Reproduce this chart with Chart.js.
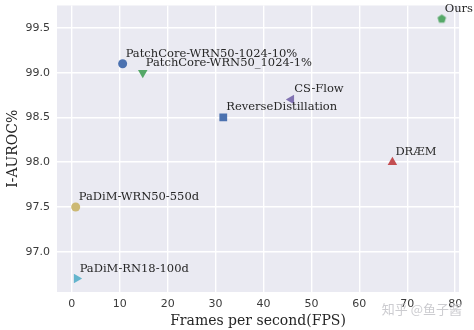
<!DOCTYPE html>
<html><head><meta charset="utf-8">
<script src="https://cdn.jsdelivr.net/npm/chart.js@4"></script>
<style>html,body{margin:0;padding:0;background:#fff}#wrap{width:474px;height:330px}</style>
</head><body><div id="wrap"><canvas id="c" width="474" height="330"></canvas></div>
<script>
const methods = ["PatchCore-WRN50-1024-10%","PatchCore-WRN50_1024-1%","ReverseDistillation","CS-Flow","Ours","DR\u00c6M","PaDiM-WRN50-550d","PaDiM-RN18-100d"];
const fps = [10.6, 14.8, 31.6, 45.8, 77.2, 66.9, 0.8, 1.0];
const auroc = [99.1, 99.0, 98.5, 98.7, 99.6, 98.0, 97.5, 96.7];
const xTicks = [0,10,20,30,40,50,60,70,80];
const yTicks = [97.0,97.5,98.0,98.5,99.0,99.5];
const colors = ["#4c72b0","#55a868","#4c72b0","#8172b2","#55a868","#c44e52","#ccb974","#64b5cd"];

function pentagon(r, color){
  const c = document.createElement('canvas');
  const s = Math.ceil(r*2+2); c.width = s; c.height = s;
  const g = c.getContext('2d'); g.fillStyle = color; g.beginPath();
  for(let i=0;i<5;i++){const a=-Math.PI/2+i*2*Math.PI/5; const px=s/2+r*Math.cos(a), py=s/2+r*Math.sin(a); i?g.lineTo(px,py):g.moveTo(px,py);}
  g.closePath(); g.fill(); return c;
}
const styles = ['circle','triangle','rect','triangle',pentagon(4.5,"#55a868"),'triangle','circle','triangle'];
const rotations = [0,180,0,-90,0,0,0,90];
const radii = [4.5,5.5,5.5,5.5,4.5,5.5,4.5,5.5];

const bgPlugin = {id:'bg', beforeDraw(ch){const a=ch.chartArea,g=ch.ctx; g.save(); g.fillStyle='#eaeaf2'; g.fillRect(a.left,a.top,a.right-a.left,a.bottom-a.top); g.restore();}};
const labelPlugin = {id:'lbl', afterDatasetsDraw(ch){
  const g=ch.ctx, xs=ch.scales.x, ys=ch.scales.y; g.save();
  g.font='11.5px "DejaVu Serif"'; g.fillStyle='#262626'; g.textAlign='left'; g.textBaseline='middle';
  methods.forEach((m,i)=>{ g.fillText(m, xs.getPixelForValue(fps[i])+3, ys.getPixelForValue(auroc[i])-10); });
  g.font='13px "Noto Sans CJK SC"'; g.fillStyle='rgba(195,195,200,0.85)'; g.textAlign='right';
  g.fillText('\u77e5\u4e4e @\u9c7c\u5b50\u9171', 462, 309);
  g.restore();
}};

new Chart(document.getElementById('c'), {
  type:'scatter',
  data:{datasets:[{data:fps.map((x,i)=>({x, y:auroc[i]})), pointStyle:styles, pointRotation:rotations, pointRadius:radii, pointHoverRadius:radii, backgroundColor:colors, borderColor:colors, borderWidth:0}]},
  options:{responsive:false, animation:false, devicePixelRatio:1,
    layout:{padding:{top:5,right:15,left:0,bottom:0}},
    plugins:{legend:{display:false},tooltip:{enabled:false}},
    scales:{
      x:{type:'linear', min:-3.1, max:80.8,
        afterBuildTicks(s){s.ticks=xTicks.map(v=>({value:v}));},
        afterFit(s){s.height=38; s.paddingLeft=0; s.paddingRight=0;},
        grid:{color:'#ffffff', lineWidth:1.4, drawTicks:false}, border:{display:false},
        ticks:{padding:6, color:'#3a3a3a', font:{family:'DejaVu Sans', size:11}, callback:v=>String(v)},
        title:{display:true, text:'Frames per second(FPS)', color:'#262626', font:{family:'DejaVu Serif', size:14}, padding:{top:0,bottom:0}}},
      y:{type:'linear', min:96.55, max:99.75,
        afterBuildTicks(s){s.ticks=yTicks.map(v=>({value:v}));},
        afterFit(s){s.width=57; s.paddingTop=0; s.paddingBottom=0;},
        grid:{color:'#ffffff', lineWidth:1.4, drawTicks:false}, border:{display:false},
        ticks:{padding:7, color:'#3a3a3a', font:{family:'DejaVu Sans', size:11}, callback:v=>Number(v).toFixed(1)},
        title:{display:true, text:'I-AUROC%', color:'#262626', font:{family:'DejaVu Serif', size:14}, padding:{top:5,bottom:0}}}
    }
  },
  plugins:[bgPlugin,labelPlugin]
});
</script></body></html>
